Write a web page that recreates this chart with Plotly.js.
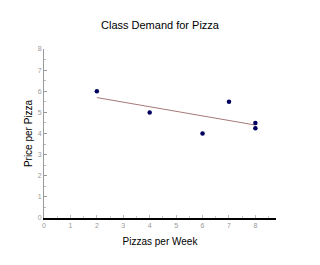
<!DOCTYPE html>
<html><head><meta charset="utf-8">
<script src="https://cdn.plot.ly/plotly-3.0.1.min.js"></script>
<style>html,body{margin:0;padding:0;background:#fff;}#chart{width:320px;height:265px;}</style>
</head><body><div id="chart"></div>
<script>
const pizzasPerWeek = [2, 4, 6, 7, 8, 8];
const pricePerPizza = [6, 5, 4, 5.5, 4.5, 4.25];
const fitX = [2, 8];
const fitY = [5.7, 4.4];
const xTicks = [0,1,2,3,4,5,6,7,8];
const yTicks = [0,1,2,3,4,5,6,7,8];

const traces = [
  {x: fitX, y: fitY, mode: 'lines', type: 'scatter', line: {color: '#a87878', width: 1}, hoverinfo: 'skip'},
  {x: pizzasPerWeek, y: pricePerPizza, mode: 'markers', type: 'scatter', marker: {color: '#000060', size: 4.5}}
];
const font = 'Liberation Sans, Arial, sans-serif';
const layout = {
  width: 320, height: 265,
  margin: {l: 44, r: 44, t: 49, b: 47},
  paper_bgcolor: '#fff', plot_bgcolor: '#fff',
  showlegend: false,
  font: {family: font, color: '#000'},
  title: {text: 'Class Demand for Pizza', font: {size: 11, family: font, color: '#000'}, x: 0.5, xanchor: 'center', y: 0.905, yanchor: 'middle'},
  xaxis: {
    range: [0, 8.78], showgrid: false, zeroline: false,
    showline: true, linecolor: '#000', linewidth: 1.5,
    tickmode: 'array', tickvals: xTicks, ticktext: xTicks.map(String),
    ticks: 'inside', ticklen: 3, tickcolor: '#bbb',
    tickfont: {size: 7, color: '#999', family: font},
    minor: {dtick: 0.5, tick0: 0, ticks: 'inside', ticklen: 2, tickcolor: '#ccc', showgrid: false},
    title: {text: 'Pizzas per Week', font: {size: 10, color: '#000', family: font}, standoff: 10}
  },
  yaxis: {
    range: [0, 8], showgrid: false, zeroline: false,
    showline: true, linecolor: '#999', linewidth: 1,
    tickmode: 'array', tickvals: yTicks, ticktext: yTicks.map(String),
    ticks: 'inside', ticklen: 3, tickcolor: '#999',
    tickfont: {size: 7, color: '#999', family: font},
    minor: {dtick: 0.5, tick0: 0, ticks: 'inside', ticklen: 2, tickcolor: '#bbb', showgrid: false},
    title: {text: 'Price per Pizza', font: {size: 10, color: '#000', family: font}, standoff: 3}
  }
};
Plotly.newPlot('chart', traces, layout, {staticPlot: true, displayModeBar: false});
</script></body></html>
